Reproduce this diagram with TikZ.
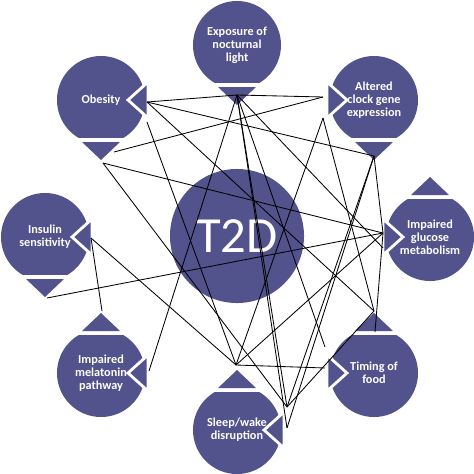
\documentclass[tikz,border=0pt]{standalone}
\usepackage{fontspec}
\setmainfont{Carlito}
\usepackage{xcolor}
\definecolor{slate}{RGB}{82,82,140}

\begin{document}
\begin{tikzpicture}
  [x=0.025cm,y=-0.025cm,
   every node/.style={circle,fill=slate,text=white,inner sep=0pt,align=center},
   topic/.style={minimum size=2.2cm,font=\bfseries\fontsize{8.7}{9.3}\selectfont},
   hub/.style={minimum size=3.35cm,font=\fontsize{36}{36}\selectfont},
   link/.style={line width=0.6pt},
   notch/.style={fill=slate,draw=white,line width=2pt},
   inport/.pic={\filldraw[notch] (47,-18) -- (47,18) -- (27,0) -- cycle;},
   outport/.pic={\fill[white] (38,-28) rectangle (42,28);
                 \fill[slate] (42,-19) -- (42,19) -- (60,0) -- cycle;}]
  \useasboundingbox (0,0) rectangle (474,474);

  \node[hub] (t2d) at (237,236) {T2D};
  \node[topic] (expo)  at (237,45)  {Exposure of\\nocturnal\\light};
  \node[topic] (clock) at (374,100) {Altered\\clock gene\\expression};
  \node[topic] (gluc)  at (430,237) {Impaired\\glucose\\metabolism};
  \node[topic] (food)  at (374,373) {Timing of\\food};
  \node[topic] (sleep) at (237,430) {Sleep/wake\\disruption};
  \node[topic] (mela)  at (101,373) {Impaired\\melatonin\\pathway};
  \node[topic] (insu)  at (45,237)  {Insulin\\sensitivity};
  \node[topic] (obes)  at (101,100) {Obesity};

  % triangles on the circles
  \pic[rotate=-90] at (expo)  {outport};
  \pic[rotate=180] at (clock) {inport};
  \pic[rotate=-90] at (clock) {outport};
  \pic[rotate=90]  at (gluc)  {outport};
  \pic[rotate=180] at (gluc)  {inport};
  \pic[rotate=90]  at (food)  {outport};
  \pic[rotate=180] at (food)  {inport};
  \pic[rotate=90]  at (sleep) {outport};
  \pic             at (sleep) {inport};
  \pic[rotate=90]  at (mela)  {outport};
  \pic             at (mela)  {inport};
  \pic             at (insu)  {inport};
  \pic[rotate=-90] at (insu)  {outport};
  \pic             at (obes)  {inport};
  \pic[rotate=-90] at (obes)  {outport};

  % line ends
  \coordinate (expoB)   at (237,95);
  \coordinate (clockL)  at (323,97);
  \coordinate (clockL2) at (323,118);
  \coordinate (clockB)  at (374,156);
  \coordinate (glucL)   at (383,233);
  \coordinate (glucL2)  at (383,248);
  \coordinate (foodT)   at (374,311);
  \coordinate (foodT2)  at (375,332);
  \coordinate (foodL)   at (325,368);
  \coordinate (foodL2)  at (325,347);
  \coordinate (sleepT)  at (236,365);
  \coordinate (sleepR)  at (287,407);
  \coordinate (sleepR2) at (287,428);
  \coordinate (melaT)   at (102,311);
  \coordinate (melaR)   at (149,371);
  \coordinate (insuR)   at (91,238);
  \coordinate (insuB)   at (47,298);
  \coordinate (obesR)   at (147,102);
  \coordinate (obesR2)  at (147,122);
  \coordinate (obesB)   at (103,163);
  \coordinate (obesB2)  at (114,152);

  \foreach \from/\to in {obesR/expoB,obesR/clockB,obesR/foodT,obesR2/sleepT,
      obesB2/clockL,obesB/glucL,obesB/sleepR,
      expoB/clockL,expoB/melaR,expoB/glucL2,expoB/foodL2,expoB/sleepR,expoB/sleepR2,
      clockL2/sleepT,clockL2/foodT,clockB/glucL,clockB/sleepR,clockB/sleepR2,
      glucL/foodT2,insuB/glucL,sleepT/glucL,sleepT/foodL,sleepR/foodT,
      insuR/sleepT,insuR/melaT}
    \draw[link] (\from) -- (\to);
\end{tikzpicture}
\end{document}
